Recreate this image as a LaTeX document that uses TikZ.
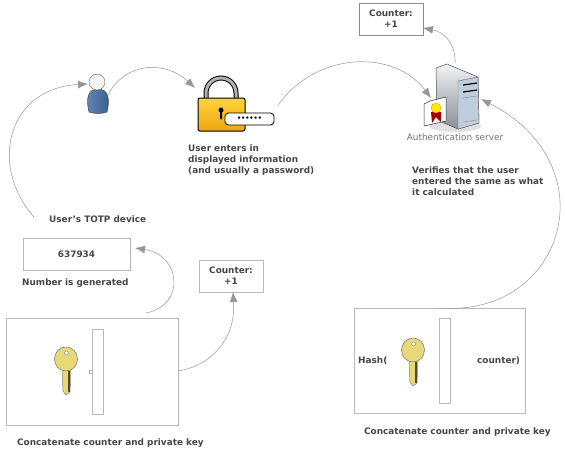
\documentclass[tikz,border=0pt]{standalone}
\usepackage{xcolor}
\usepackage{fontspec}
\setmainfont{DejaVu Sans}
\usetikzlibrary{arrows.meta}
\definecolor{boxgray}{RGB}{185, 185, 185}
\definecolor{wiregray}{RGB}{150, 150, 150}
\definecolor{textgray}{RGB}{70, 70, 70}
\definecolor{lockyellow}{RGB}{255, 212, 60}
\definecolor{lockorange}{RGB}{240, 165, 15}
\definecolor{keyyellow}{RGB}{232, 216, 120}
\definecolor{personblue}{RGB}{60, 105, 160}
\definecolor{serverblue}{RGB}{192, 205, 220}
\tikzset{
    plainbox/.style={draw=boxgray, line width=0.9pt, fill=white, inner sep=0pt},
    caption/.style={font=\fontsize{8.9}{11.2}\selectfont\bfseries, text=textgray, inner sep=0pt},
    link/.style={draw=wiregray, line width=0.5pt, -{Latex[length=10pt,width=8pt,fill=wiregray]}},
    keyicon/.pic={
        \fill[keyyellow, draw=gray, line width=0.5pt] (-4, 10) -- (-3, 32) -- (0, 36) -- (4, 33) -- (5, 10) -- cycle;
        \fill[black!65!keyyellow] (1.5, 12) rectangle (4, 33);
        \fill[keyyellow, draw=gray, line width=0.6pt] (0, 0) ellipse (11.5 and 12);
        \fill[white, draw=gray, line width=0.4pt] (0.5, -6) circle (2pt);
    }
}
\begin{document}
\begin{tikzpicture}[x=1pt, y=-1pt]
    \useasboundingbox (0, 0) rectangle (565, 451);

    % Person
    \shade[left color=personblue!80!white, right color=personblue!90!black, draw=black!70, line width=0.5pt] (89, 112) .. controls (86, 100) and (87, 89) .. (98, 89) .. controls (109, 89) and (110, 100) .. (107, 112) .. controls (102, 114) and (94, 114) .. (89, 112) -- cycle;
    \node[circle, draw=black!60, fill=black!4, minimum size=16pt, inner sep=0pt] (person) at (97, 82) {};

    % Padlock
    \draw[black, line width=5pt] (206, 100) -- (206, 93) arc (180:360:15) -- (236, 100);
    \draw[black!30, line width=3pt] (206, 100) -- (206, 93) arc (180:360:15) -- (236, 100);
    \node[draw=black, line width=1pt, top color=lockyellow, bottom color=lockorange, rounded corners=2pt, minimum width=47pt, minimum height=33pt, inner sep=0pt] (lock) at (221.5, 114.5) {};
    \fill[black] (221, 110) circle (2.5pt) (220, 110) rectangle (222, 119);
    \node[draw=black, line width=0.8pt, fill=white, rounded corners=3.5pt, minimum width=49pt, minimum height=12pt, inner sep=0pt, font=\fontsize{6.5}{6.5}\selectfont\bfseries] (password) at (249.5, 119) {••••••};

    % Server and certificate
    \fill[black!12] (455, 126) ellipse (26 and 6);
    \shade[top color=black!5, bottom color=serverblue!70!black, draw=black!70, line width=0.5pt] (436, 68) -- (447, 64) -- (478, 77) -- (479, 123) -- (458, 129) -- (437, 120) -- cycle;
    \fill[serverblue, draw=black!60, line width=0.4pt] (458, 81) -- (478, 77) -- (479, 123) -- (458, 129) -- cycle;
    \draw[black, line width=1.2pt] (463, 85) -- (477, 83) (463, 92) -- (477, 90);
    \draw[black!40, line width=0.6pt] (463, 98) -- (477, 96) (463, 122) -- (477, 120);
    \fill[white, draw=black!80, line width=0.5pt] (424, 104) -- (430, 101) -- (446, 97) -- (446, 121) -- (424, 126) -- cycle;
    \fill[red!65!black] (431, 112) -- (441, 112) -- (441, 122) -- (436, 117) -- (432, 123) -- cycle;
    \node[circle, fill=yellow!90!orange, draw=orange, line width=0.3pt, minimum size=10pt, inner sep=0pt] (cert) at (436, 108) {};
    \coordinate (servertip) at (481, 99);
    \coordinate (servertop) at (455, 63);
    \coordinate (certtip) at (431, 98);
    \node[font=\fontsize{8.9}{9}\selectfont, text=black!55, inner sep=0pt] (serverlabel) at (455, 137) {Authentication server};

    % Text labels
    \node[caption, align=left, anchor=north west] (enters) at (188, 144.5) {User enters in\\displayed information\\(and usually a password)};
    \node[caption, align=left, anchor=north west] (verifies) at (412, 166.5) {Verifies that the user\\entered the same as what\\it calculated};
    \node[caption, anchor=west] (device) at (49, 219) {User's TOTP device};

    % Boxes
    \node[plainbox, draw=black!45, line width=0.6pt, minimum width=64pt, minimum height=32pt, caption, align=center] (counterserver) at (391, 19) {Counter:\\+1};
    \node[plainbox, minimum width=107pt, minimum height=32pt, caption, align=center] (number) at (76.5, 254) {637934};
    \node[caption, anchor=west] (generated) at (22, 283) {Number is generated};
    \node[plainbox, minimum width=64pt, minimum height=32pt, caption, align=center] (counterdevice) at (231, 276) {Counter:\\+1};

    % Device side
    \node[plainbox, minimum width=171.5pt, minimum height=107pt] (concatleft) at (92.3, 371.5) {};
    \fill[white, draw=black!60, line width=0.4pt] (91, 372) circle (2pt);
    \node[plainbox, line width=0.6pt, minimum width=11pt, minimum height=85pt] (slotleft) at (97.5, 371.5) {};
    \pic at (66, 359) {keyicon};
    \node[caption, anchor=west] (captionleft) at (17, 443) {Concatenate counter and private key};

    % Server side
    \node[plainbox, minimum width=171pt, minimum height=105pt] (concatright) at (439.5, 360.5) {};
    \node[plainbox, line width=0.6pt, minimum width=11pt, minimum height=85pt] (slotright) at (444.5, 361) {};
    \pic at (413, 350) {keyicon};
    \node[caption, anchor=west] (hash) at (358, 361) {Hash(};
    \node[caption, anchor=west] (counterword) at (477, 361) {counter)};
    \node[caption, anchor=west] (captionright) at (364, 432) {Concatenate counter and private key};

    % Links
    \coordinate (devicestart) at (34, 217);
    \coordinate (persontip) at (88, 84);
    \coordinate (personout) at (108, 95);
    \coordinate (locktip) at (195, 88);
    \coordinate (lockout) at (278, 105);
    \coordinate (numberstart) at (146, 313);
    \coordinate (numbertip) at (135, 248);
    \coordinate (leftout) at (178, 371);
    \coordinate (countertip) at (233, 292);
    \coordinate (serverboxtip) at (423, 28);
    \coordinate (rightout) at (439, 308);
    \draw[link] (devicestart) .. controls (-12, 165) and (8, 88) .. (persontip);
    \draw[link] (personout) .. controls (125, 62) and (165, 60) .. (locktip);
    \draw[link] (lockout) .. controls (318, 50) and (395, 50) .. (certtip);
    \draw[link] (servertop) .. controls (456, 45) and (445, 32) .. (serverboxtip);
    \draw[link] (rightout) .. controls (565, 318) and (610, 165) .. (servertip);
    \draw[link] (numberstart) .. controls (186, 305) and (181, 255) .. (numbertip);
    \draw[link] (leftout) .. controls (210, 366) and (236, 340) .. (countertip);
\end{tikzpicture}
\end{document}
